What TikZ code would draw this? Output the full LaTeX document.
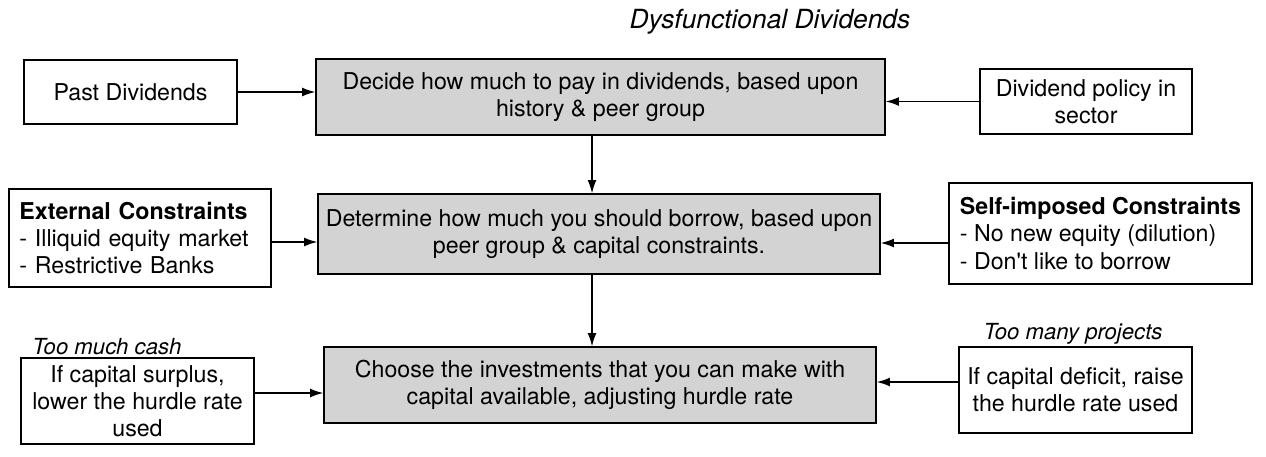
\documentclass[tikz,border=0pt]{standalone}
\usepackage{fontspec}
\setmainfont{TeX Gyre Heros}
\usetikzlibrary{arrows.meta}
\definecolor{boxgray}{RGB}{211,211,211}
\begin{document}
\begin{tikzpicture}
[box/.style={draw,line width=0.8pt,inner sep=0pt,align=center,
   font=\fontsize{13.2}{15.5}\selectfont},
 step box/.style={box,fill=boxgray},
 list box/.style={box,align=left},
 note/.style={font=\fontsize{12.6}{15}\selectfont\itshape,inner sep=1pt},
 arr/.style={line width=0.7pt,-{Latex[length=7.5pt,width=5pt]}}]

  \useasboundingbox (0,0) rectangle (25.32,-9.12);

  \node[font=\fontsize{15}{18}\selectfont\itshape] (title) at (15.4,-0.44) {Dysfunctional Dividends};

  % main column
  \node[step box,minimum width=11.38cm,minimum height=1.52cm]
    (decide) at (12.01,-1.94) {Decide how much to pay in dividends, based upon\\ history \& peer group};
  \node[step box,minimum width=11.24cm,minimum height=1.60cm]
    (borrow) at (11.98,-4.68) {Determine how much you should borrow, based upon\\ peer group \& capital constraints.};
  \node[step box,minimum width=11.04cm,minimum height=1.52cm]
    (choose) at (12.00,-7.70) {Choose the investments that you can make with\\ capital available, adjusting hurdle rate};

  % left side
  \node[box,minimum width=4.26cm,minimum height=1.28cm]
    (past) at (2.61,-1.84) {Past Dividends};
  \node[list box,minimum width=5.24cm,minimum height=1.96cm,text width=4.82cm]
    (external) at (2.80,-4.76) {\textbf{External Constraints}\\ - Illiquid equity market\\ - Restrictive Banks};
  \node[box,minimum width=4.66cm,minimum height=1.72cm]
    (surplus) at (2.75,-8.02) {If capital surplus,\\ lower the hurdle rate\\ used};
  \node[note,anchor=south west] (cash) at ([xshift=0.2cm]surplus.north west) {Too much cash};

  % right side
  \node[box,minimum width=4.24cm,minimum height=1.30cm]
    (policy) at (21.72,-2.03) {Dividend policy in\\ sector};
  \node[list box,minimum width=6.06cm,minimum height=2.02cm]
    (selfimp) at (22.01,-4.67) {\textbf{Self-imposed Constraints}\\ - No new equity (dilution)\\ - Don\textquotesingle t like to borrow};
  \node[box,minimum width=4.66cm,minimum height=1.72cm]
    (deficit) at (21.51,-7.80) {If capital deficit, raise\\ the hurdle rate used};
  \node[note,anchor=south] (projects) at ([xshift=-0.05cm]deficit.north) {Too many projects};

  \draw[arr] ([xshift=-0.17cm]decide.south) -- ([xshift=-0.17cm]decide.south |- borrow.north);
  \draw[arr] ([xshift=-0.14cm]borrow.south) -- ([xshift=-0.14cm]borrow.south |- choose.north);

  \draw[arr] (past.east) -- (past.east -| decide.west);
  \draw[arr] (policy.west) -- (policy.west -| decide.east);
  \draw[arr] ([yshift=-0.08cm]external.east) -- ([yshift=-0.08cm]external.east -| borrow.west);
  \draw[arr] ([yshift=-0.19cm]selfimp.west) -- ([yshift=-0.19cm]selfimp.west -| borrow.east);
  \draw[arr] ([yshift=0.16cm]surplus.east) -- ([yshift=0.16cm]surplus.east -| choose.west);
  \draw[arr] ([yshift=0.16cm]deficit.west) -- ([yshift=0.16cm]deficit.west -| choose.east);
\end{tikzpicture}
\end{document}
